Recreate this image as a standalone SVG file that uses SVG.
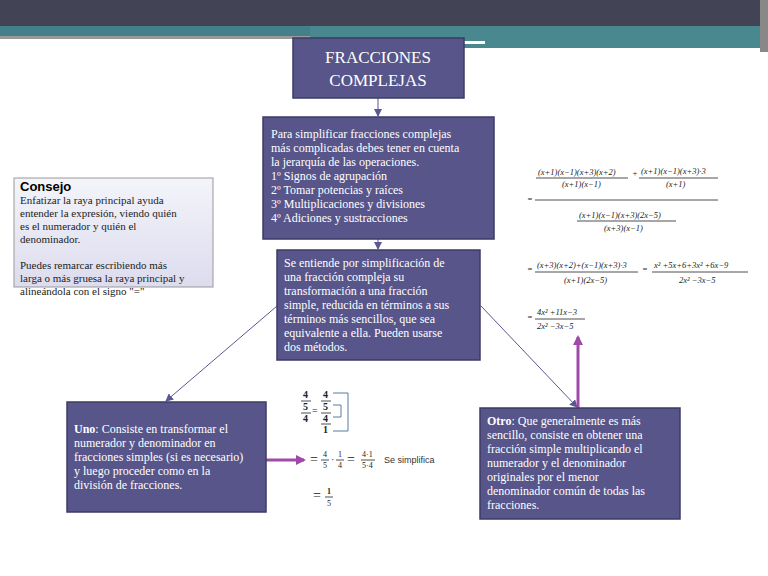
<svg xmlns="http://www.w3.org/2000/svg" width="768" height="576" viewBox="0 0 768 576">
<defs>
<style>
.box{fill:#57558a;stroke:#3d3b66;stroke-width:1.5}
.t{font-family:"Liberation Serif",serif;fill:#fff;font-size:12px}
.d{font-family:"Liberation Serif",serif;fill:#222;font-size:11px}
.m{font-family:"Liberation Serif",serif;fill:#222;font-size:8.5px;font-style:italic}
.mn{font-family:"Liberation Serif",serif;fill:#222;font-size:10px}
.c{stroke:#5a5890;stroke-width:1;fill:none}
.fl{stroke:#222;stroke-width:0.8}
</style>
<marker id="a" markerWidth="8" markerHeight="8" refX="7" refY="4" orient="auto" markerUnits="userSpaceOnUse"><path d="M0,0 L8,4 L0,8 z" fill="#5a5890"/></marker>
<marker id="p" markerWidth="10" markerHeight="10" refX="8" refY="5" orient="auto" markerUnits="userSpaceOnUse"><path d="M0,0 L10,5 L0,10 z" fill="#a04aa8"/></marker>
<linearGradient id="g" x1="0" y1="0" x2="0" y2="1"><stop offset="0" stop-color="#f4f4fa"/><stop offset="1" stop-color="#dcdcee"/></linearGradient>
</defs>
<rect width="768" height="576" fill="#fff"/>
<rect x="0" y="0" width="768" height="26" fill="#434356"/>
<rect x="0" y="26" width="310" height="10" fill="#43808a"/>
<rect x="310" y="26" width="458" height="22" fill="#4a8890"/>
<rect x="0" y="36" width="310" height="3" fill="#999"/>
<rect x="315" y="41" width="170" height="3" fill="#fff"/>
<rect x="420" y="49" width="90" height="3" fill="#fff"/>
<rect x="760" y="0" width="8" height="52" fill="#888"/>

<g id="connectors">
<line class="c" x1="378" y1="98" x2="378" y2="116" marker-end="url(#a)"/>
<line class="c" x1="378" y1="239" x2="378" y2="249" marker-end="url(#a)"/>
<line class="c" x1="277" y1="306" x2="166" y2="401" marker-end="url(#a)"/>
<line class="c" x1="481" y1="306" x2="577" y2="407" marker-end="url(#a)"/>
<line x1="266" y1="460" x2="304" y2="460" stroke="#a04aa8" stroke-width="3" marker-end="url(#p)"/>
<line x1="578" y1="408" x2="578" y2="337" stroke="#a04aa8" stroke-width="3" marker-end="url(#p)"/>
</g>

<g id="title"><rect class="box" x="293" y="38" width="171" height="60"/>
<text class="t" style="font-size:17px" x="378" y="63" text-anchor="middle">FRACCIONES</text>
<text class="t" style="font-size:17px" x="378" y="86" text-anchor="middle">COMPLEJAS</text></g>

<g id="pasos"><rect class="box" x="263" y="117" width="231" height="122"/>
<text class="t" x="271" y="138">Para simplificar fracciones complejas</text>
<text class="t" x="271" y="152">más complicadas debes tener en cuenta</text>
<text class="t" x="271" y="166">la jerarquía de las operaciones.</text>
<text class="t" x="271" y="180">1º Signos de agrupación</text>
<text class="t" x="271" y="194">2º Tomar potencias y raíces</text>
<text class="t" x="271" y="208">3º Multiplicaciones y divisiones</text>
<text class="t" x="271" y="222">4º Adiciones y sustracciones</text></g>

<g id="definicion"><rect class="box" x="277" y="250" width="203" height="110"/>
<text class="t" x="284" y="267">Se entiende por simplificación de</text>
<text class="t" x="284" y="281">una fracción compleja su</text>
<text class="t" x="284" y="295">transformación a una fracción</text>
<text class="t" x="284" y="309">simple, reducida en términos a sus</text>
<text class="t" x="284" y="323">términos más sencillos, que sea</text>
<text class="t" x="284" y="337">equivalente a ella. Pueden usarse</text>
<text class="t" x="284" y="351">dos métodos.</text></g>

<g id="consejo"><rect x="14" y="178" width="199" height="109" fill="url(#g)" stroke="#999"/>
<text x="20" y="191" style="font-size:13px;font-family:'Liberation Sans',sans-serif;font-weight:bold;fill:#000">Consejo</text>
<text class="d" x="20" y="204">Enfatizar la raya principal ayuda</text>
<text class="d" x="20" y="217">entender la expresión, viendo quién</text>
<text class="d" x="20" y="230">es el numerador y quién el</text>
<text class="d" x="20" y="243">denominador.</text>
<text class="d" x="20" y="269">Puedes remarcar escribiendo más</text>
<text class="d" x="20" y="282">larga o más gruesa la raya principal y</text>
<text class="d" x="20" y="295">alineándola con el signo "="</text></g>

<g id="uno"><rect class="box" x="67" y="402" width="199" height="110"/>
<text class="t" x="74" y="433"><tspan font-weight="bold">Uno</tspan>: Consiste en transformar el</text>
<text class="t" x="74" y="447">numerador y denominador en</text>
<text class="t" x="74" y="461">fracciones simples (si es necesario)</text>
<text class="t" x="74" y="475">y luego proceder como en la</text>
<text class="t" x="74" y="489">división de fracciones.</text></g>

<g id="otro"><rect class="box" x="480" y="408" width="200" height="111"/>
<text class="t" x="487" y="425"><tspan font-weight="bold">Otro</tspan>: Que generalmente es más</text>
<text class="t" x="487" y="439">sencillo, consiste en obtener una</text>
<text class="t" x="487" y="453">fracción simple multiplicando el</text>
<text class="t" x="487" y="467">numerador y el denominador</text>
<text class="t" x="487" y="481">originales por el menor</text>
<text class="t" x="487" y="495">denominador común de todas las</text>
<text class="t" x="487" y="509">fracciones.</text></g>

<g id="ejemplo1">
<text class="mn" x="303" y="398" font-weight="bold">4</text><line class="fl" x1="301" y1="401" x2="311" y2="401"/>
<text class="mn" x="303" y="410" font-weight="bold">5</text><line class="fl" x1="301" y1="413" x2="311" y2="413"/>
<text class="mn" x="303" y="422" font-weight="bold">4</text>
<text class="mn" x="312" y="414">=</text>
<text class="mn" x="323" y="398" font-weight="bold">4</text><line class="fl" x1="321" y1="401" x2="331" y2="401"/>
<text class="mn" x="323" y="410" font-weight="bold">5</text><line class="fl" x1="321" y1="413" x2="331" y2="413"/>
<text class="mn" x="323" y="422" font-weight="bold">4</text><line class="fl" x1="321" y1="424" x2="331" y2="424"/>
<text class="mn" x="323" y="433" font-weight="bold">1</text>
<path d="M333,393 H348 V431 H333 M333,405 H341 V417 H333" fill="none" stroke="#5a7aa0" stroke-width="1"/>
<text class="mn" x="310" y="464" style="font-size:14px">=</text>
<text class="mn" x="323" y="457" style="font-size:8px">4</text><line class="fl" x1="321" y1="460" x2="329" y2="460"/><text class="mn" x="323" y="468" style="font-size:8px">5</text>
<text class="mn" x="331" y="463">·</text>
<text class="mn" x="338" y="457" style="font-size:8px">1</text><line class="fl" x1="336" y1="460" x2="344" y2="460"/><text class="mn" x="338" y="468" style="font-size:8px">4</text>
<text class="mn" x="347" y="464" style="font-size:14px">=</text>
<text class="mn" x="362" y="457" style="font-size:8px">4·1</text><line class="fl" x1="361" y1="460" x2="375" y2="460"/><text class="mn" x="362" y="468" style="font-size:8px">5·4</text>
<text x="384" y="463" style="font-family:'Liberation Sans',sans-serif;font-size:9px;fill:#333">Se simplifica</text>
<text class="mn" x="313" y="500" style="font-size:14px">=</text>
<text class="mn" x="327" y="494" style="font-size:8px" font-weight="bold">1</text><line class="fl" x1="325" y1="497" x2="333" y2="497"/><text class="mn" x="327" y="506" style="font-size:8px">5</text>
</g>

<g id="ejemplo2">
<text class="m" x="538" y="175">(x+1)(x−1)(x+3)(x+2)</text>
<line class="fl" x1="536" y1="178" x2="628" y2="178"/>
<text class="m" x="562" y="187">(x+1)(x−1)</text>
<text class="m" x="632" y="176">+</text>
<text class="m" x="641" y="174">(x+1)(x−1)(x+3)·3</text>
<line class="fl" x1="639" y1="178" x2="718" y2="178"/>
<text class="m" x="666" y="187">(x+1)</text>
<text class="m" x="527" y="202">=</text>
<line class="fl" x1="535" y1="200" x2="718" y2="200"/>
<text class="m" x="579" y="218">(x+1)(x−1)(x+3)(2x−5)</text>
<line class="fl" x1="577" y1="221" x2="676" y2="221"/>
<text class="m" x="604" y="231">(x+3)(x−1)</text>
<text class="m" x="527" y="272">=</text>
<text class="m" x="537" y="268">(x+3)(x+2)+(x−1)(x+3)·3</text>
<line class="fl" x1="535" y1="272" x2="638" y2="272"/>
<text class="m" x="564" y="283">(x+1)(2x−5)</text>
<text class="m" x="642" y="272">=</text>
<text class="m" x="654" y="268">x² +5x+6+3x² +6x−9</text>
<line class="fl" x1="652" y1="272" x2="748" y2="272"/>
<text class="m" x="679" y="283">2x² −3x−5</text>
<text class="m" x="527" y="320">=</text>
<text class="m" x="537" y="315">4x² +11x−3</text>
<line class="fl" x1="535" y1="319" x2="585" y2="319"/>
<text class="m" x="537" y="329">2x² −3x−5</text>
</g>
</svg>
